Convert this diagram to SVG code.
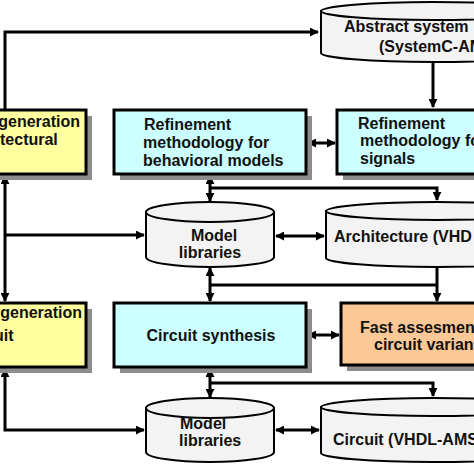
<svg xmlns="http://www.w3.org/2000/svg" width="474" height="474" viewBox="0 0 474 474">
<defs>
<style>
.t{font-family:"Liberation Sans",Arial,sans-serif;font-weight:bold;font-size:16px;fill:#111}
.shadow{fill:#8c8c8c}
.box{stroke:#000;stroke-width:3}
.yel{fill:#ffffa0}
.cyan{fill:#ccffff}
.org{fill:#fbc896}
.cyl{fill:#f3f3f3;stroke:#000;stroke-width:2}
.ln{fill:none;stroke:#000;stroke-width:3}
</style>
<marker id="ah" viewBox="0 0 10 10" refX="9" refY="5" markerWidth="3" markerHeight="3" orient="auto-start-reverse">
<path d="M0,0 L10,5 L0,10 z" fill="#000"/>
</marker>
</defs>
<rect width="474" height="474" fill="#fff"/>

<g id="connectors">
<path class="ln" d="M5,110 V32 H318" marker-end="url(#ah)"/>
<path class="ln" d="M433,62 V107" marker-end="url(#ah)"/>
<path class="ln" d="M308,143 H335" marker-start="url(#ah)" marker-end="url(#ah)"/>
<path class="ln" d="M210,176 V201" marker-start="url(#ah)" marker-end="url(#ah)"/>
<path class="ln" d="M210,188 H437 V200" marker-end="url(#ah)"/>
<path class="ln" d="M276,236 H324" marker-start="url(#ah)" marker-end="url(#ah)"/>
<path class="ln" d="M5,176 V301" marker-start="url(#ah)" marker-end="url(#ah)"/>
<path class="ln" d="M5,235 H144" marker-end="url(#ah)"/>
<path class="ln" d="M210,268 V301" marker-start="url(#ah)" marker-end="url(#ah)"/>
<path class="ln" d="M437,268 V301" marker-end="url(#ah)"/>
<path class="ln" d="M210,285 H437"/>
<path class="ln" d="M308,335 H339" marker-start="url(#ah)" marker-end="url(#ah)"/>
<path class="ln" d="M210,369 V397" marker-start="url(#ah)" marker-end="url(#ah)"/>
<path class="ln" d="M210,383 H433 V396" marker-end="url(#ah)"/>
<path class="ln" d="M5,369 V430 H144" marker-start="url(#ah)" marker-end="url(#ah)"/>
<path class="ln" d="M276,430 H319" marker-start="url(#ah)" marker-end="url(#ah)"/>
</g>

<g id="abstract">
<path class="cyl" d="M321,11 V53 A112,9 0 0 0 545,53 V11 z"/>
<ellipse class="cyl" cx="433" cy="11" rx="112" ry="9"/>
<text class="t" x="344" y="32">Abstract system</text>
<text class="t" x="379" y="52">(SystemC-AM</text>
</g>

<g id="gen-arch">
<rect class="shadow" x="-4" y="116" width="96" height="64"/>
<rect class="box yel" x="-10" y="110" width="96" height="64"/>
<text class="t" x="80" y="127" text-anchor="end">generation</text>
<text class="t" x="0" y="145">tectural</text>
</g>

<g id="ref-beh">
<rect class="shadow" x="120" y="116" width="192" height="64"/>
<rect class="box cyan" x="114" y="110" width="192" height="64"/>
<text class="t" x="144" y="130">Refinement</text>
<text class="t" x="143" y="148">methodology for</text>
<text class="t" x="143" y="166">behavioral models</text>
</g>

<g id="ref-sig">
<rect class="shadow" x="343" y="116" width="150" height="64"/>
<rect class="box cyan" x="337" y="110" width="150" height="64"/>
<text class="t" x="358" y="129">Refinement</text>
<text class="t" x="360" y="146">methodology fo</text>
<text class="t" x="360" y="164">signals</text>
</g>

<g id="modlib1">
<path class="cyl" d="M146,212 V257 A64,10 0 0 0 274,257 V212 z"/>
<ellipse class="cyl" cx="210" cy="212" rx="64" ry="10"/>
<text class="t" x="214" y="241" text-anchor="middle">Model</text>
<text class="t" x="210" y="258" text-anchor="middle">libraries</text>
</g>

<g id="architecture">
<path class="cyl" d="M326,211 V258 A111,9 0 0 0 548,258 V211 z"/>
<ellipse class="cyl" cx="437" cy="211" rx="111" ry="9"/>
<text class="t" x="334" y="242">Architecture (VHD</text>
</g>

<g id="gen-circ">
<rect class="shadow" x="-4" y="309" width="96" height="64"/>
<rect class="box yel" x="-10" y="303" width="96" height="64"/>
<text class="t" x="82" y="318" text-anchor="end">generation</text>
<text class="t" x="-6" y="341">uit</text>
</g>

<g id="synthesis">
<rect class="shadow" x="120" y="309" width="192" height="64"/>
<rect class="box cyan" x="114" y="303" width="192" height="64"/>
<text class="t" x="211" y="341" text-anchor="middle">Circuit synthesis</text>
</g>

<g id="fast">
<rect class="shadow" x="347" y="309" width="150" height="62"/>
<rect class="box org" x="341" y="303" width="150" height="62"/>
<text class="t" x="360" y="333">Fast assesmen</text>
<text class="t" x="374" y="350">circuit varian</text>
</g>

<g id="modlib2">
<path class="cyl" d="M146,408 V452 A64,10 0 0 0 274,452 V408 z"/>
<ellipse class="cyl" cx="210" cy="408" rx="64" ry="10"/>
<text class="t" x="180" y="429">Model</text>
<text class="t" x="179" y="446">libraries</text>
</g>

<g id="circuit">
<path class="cyl" d="M321,407 V453 A112,9 0 0 0 545,453 V407 z"/>
<ellipse class="cyl" cx="433" cy="407" rx="112" ry="9"/>
<text class="t" x="333" y="445">Circuit (VHDL-AMS</text>
</g>
</svg>
